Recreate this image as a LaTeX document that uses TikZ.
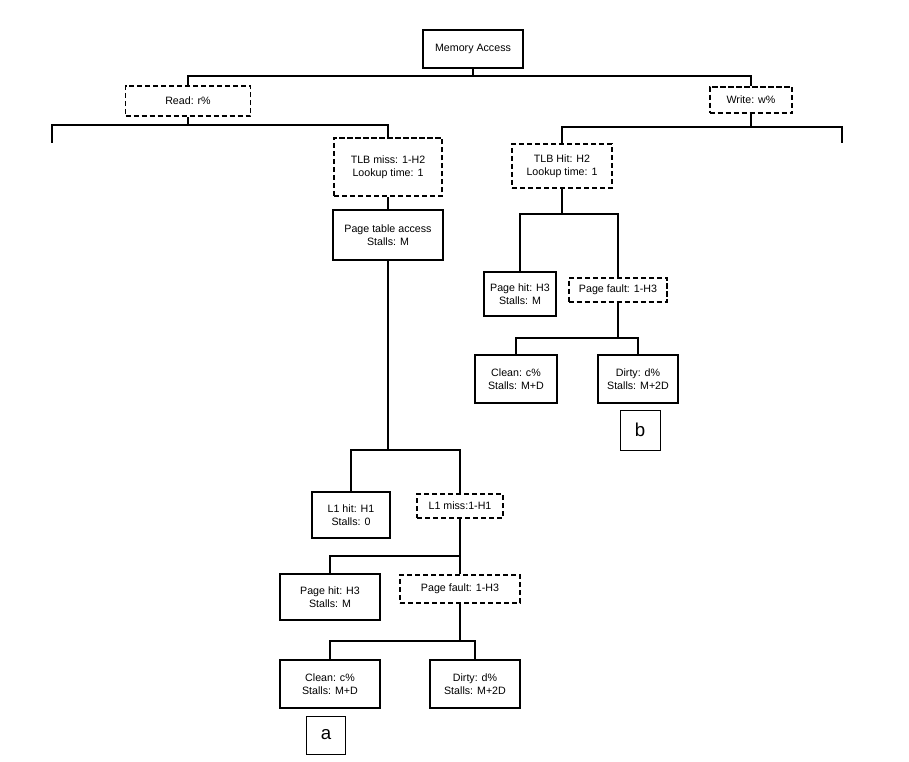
\documentclass[tikz,border=0pt]{standalone}
\usepackage{fontspec}
\setmainfont{Liberation Sans}
\begin{document}
\begin{tikzpicture}[x=0.75pt,y=-0.75pt,
  box/.style={draw,line width=1.3pt,inner sep=0pt,align=center,font=\fontsize{8}{10}\selectfont},
  dbox/.style={box,dash pattern=on 4pt off 2pt},
  lbl/.style={draw,line width=0.5pt,inner sep=0pt,font=\fontsize{14}{16}\selectfont\rmfamily},
  ln/.style={line width=1.5pt}]
\useasboundingbox (0,0) rectangle (909,762);
\newcommand{\bx}[6]{\node[#1,minimum width=#4*0.75pt,minimum height=#5*0.75pt] (#6) at (#2,#3) {};}
% nodes
\node[box,minimum width=75pt,minimum height=28.5pt] (ma) at (473,49) {Memory Access};
\node[dbox,minimum width=93.75pt,minimum height=23pt] (rd) at (188,101) {Read: r\%};
\node[dbox,minimum width=62pt,minimum height=20pt] (wr) at (751,100) {Write: w\%};
\node[dbox,minimum width=81pt,minimum height=44pt] (tm) at (388,167) {TLB miss: 1-H2\\Lookup time: 1};
\node[box,minimum width=82pt,minimum height=37.5pt] (pt) at (388,235) {Page table access\\Stalls: M};
\node[box,minimum width=58pt,minimum height=34.5pt] (l1h) at (351,515) {L1 hit: H1\\Stalls: 0};
\node[dbox,minimum width=64.5pt,minimum height=18pt] (l1m) at (460,506) {L1 miss:1-H1};
\node[box,minimum width=75pt,minimum height=34.5pt] (ph1) at (330,597) {Page hit: H3\\Stalls: M};
\node[dbox,minimum width=90pt,minimum height=21pt] (pf1) at (460,589) {Page fault: 1-H3};
\node[box,minimum width=75pt,minimum height=36pt] (cl1) at (330,684) {Clean: c\%\\Stalls: M+D};
\node[box,minimum width=67.5pt,minimum height=36pt] (dt1) at (475,684) {Dirty: d\%\\Stalls: M+2D};
\node[lbl,minimum width=29pt,minimum height=28.5pt] (a) at (326,735) {a};
\node[dbox,minimum width=75pt,minimum height=33pt] (th) at (562,166) {TLB Hit: H2\\Lookup time: 1};
\node[box,minimum width=54pt,minimum height=33pt] (ph2) at (520,294) {Page hit: H3\\Stalls: M};
\node[dbox,minimum width=74pt,minimum height=18pt] (pf2) at (618,290) {Page fault: 1-H3};
\node[box,minimum width=61.5pt,minimum height=36pt] (cl2) at (516,379) {Clean: c\%\\Stalls: M+D};
\node[box,minimum width=60pt,minimum height=36pt] (dt2) at (638,379) {Dirty: d\%\\Stalls: M+2D};
\node[lbl,minimum width=30pt,minimum height=30pt] (b) at (640,430) {b};
% junctions
\coordinate (j0) at (473,76);
\coordinate (jr) at (188,125);
\coordinate (jrl) at (52,143);
\coordinate (jw) at (751,127);
\coordinate (jwr) at (842,143);
\coordinate (jp) at (388,450);
\coordinate (jm) at (460,556);
\coordinate (jf) at (460,641);
\coordinate (jt) at (562,214);
\coordinate (jf2) at (618,338);
% connectors
\draw[ln] (ma.south) -- (j0);
\draw[ln] (rd.north) |- (j0) -| (wr.north);
\draw[ln] (rd.south) -- (jr);
\draw[ln] (jrl) |- (jr) -| (tm.north);
\draw[ln] (tm.south) -- (pt.north);
\draw[ln] (pt.south) -- (jp);
\draw[ln] (l1h.north) |- (jp) -| (l1m.north);
\draw[ln] (l1m.south) -- (jm);
\draw[ln] (ph1.north) |- (jm) -- (pf1.north);
\draw[ln] (pf1.south) -- (jf);
\draw[ln] (cl1.north) |- (jf) -| (dt1.north);
\draw[ln] (wr.south) -- (jw);
\draw[ln] (th.north) |- (jw) -| (jwr);
\draw[ln] (th.south) -- (jt);
\draw[ln] (ph2.north) |- (jt) -| (pf2.north);
\draw[ln] (pf2.south) -- (jf2);
\draw[ln] (cl2.north) |- (jf2) -| (dt2.north);
\end{tikzpicture}
\end{document}
